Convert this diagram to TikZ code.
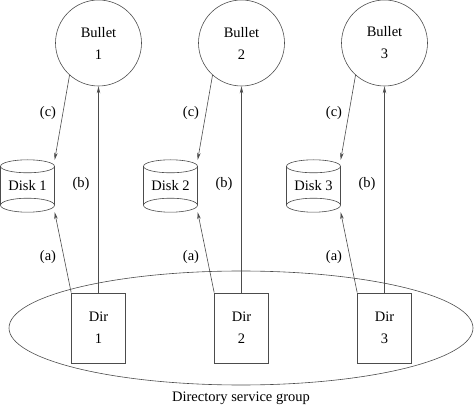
\documentclass[tikz,border=0pt]{standalone}
\usepackage{fontspec}
\setmainfont{Liberation Serif}
\usetikzlibrary{shapes.geometric,arrows.meta}
\begin{document}
\begin{tikzpicture}[x=1pt,y=-1pt,
  every node/.style={font=\fontsize{14.5}{22}\selectfont, inner sep=0pt},
  ln/.style={draw=black!70, line width=0.6pt},
  arr/.style={ln, -{Stealth[length=7pt,width=3.5pt]}},
  bullet/.style={ln, circle, minimum size=86pt, align=center},
  dirbox/.style={ln, rectangle, minimum width=54pt, minimum height=70pt, align=center, fill=white},
  disk/.style={minimum width=54pt, minimum height=52pt},
  lbl/.style={}]
\useasboundingbox (0,0) rectangle (474,406);
\node[ln, ellipse, minimum width=464pt, minimum height=114pt] (grp) at (241,328) {};
\node (cap) at (241,398) {Directory service group};
\foreach \i/\x in {1/98.5,2/241.5,3/384.5}{
  \node[bullet] (b\i) at (\x,43) {Bullet\\\i};
  \node[dirbox] (dir\i) at (\x,328) {Dir\\\i};
  \node[disk] (d\i) at (\x-71,186) {Disk \i};
  \draw[ln] ([yshift=-6.5pt]d\i.north west) -- ([yshift=7pt]d\i.south west)
            ([yshift=-6.5pt]d\i.north east) -- ([yshift=7pt]d\i.south east);
  \draw[ln] ([yshift=-6.5pt]d\i.north) ellipse [x radius=27pt, y radius=6.5pt];
  \draw[ln] ([yshift=7pt]d\i.south) ellipse [x radius=27pt, y radius=7pt];
  \draw[arr] (b\i.228) -- (d\i.north east);
  \draw[arr] (dir\i.north) -- (b\i.south);
  \draw[arr] (dir\i.north west) -- (d\i.south east);
  \node[lbl] (c\i) at (\x-50.5,113) {(c)};
  \node[lbl] (bl\i) at (\x-17.5,184) {(b)};
  \node[lbl] (a\i) at (\x-50.5,257) {(a)};
}
\end{tikzpicture}
\end{document}
